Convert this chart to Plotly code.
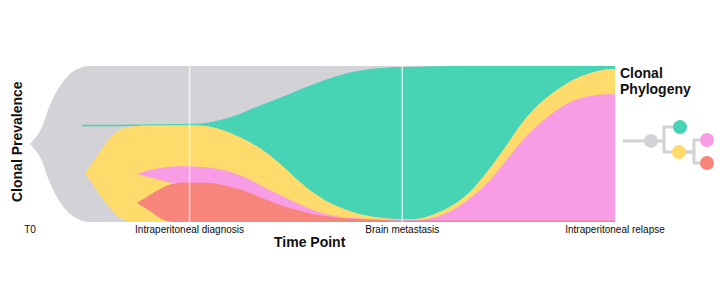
import plotly.graph_objects as go

# ---------------- data (time in arbitrary units, prevalence in %) ----------------
timepoints = [0, 30, 70, 110]
timepoint_labels = ["T0", "Intraperitoneal diagnosis", "Brain metastasis", "Intraperitoneal relapse"]
sample_lines = [30, 70]

clone_colors = ["#d3d2d6", "#46d4b4", "#fedb6a", "#f99ce6", "#f7857c"]

# clone 1 (parental, gray)
gray_t = [0, 1.88, 3.76, 5.64, 7.52, 9.40, 10.91, 60, 110]
gray_top = [50, 58.3, 75.0, 87.2, 94.9, 98.7, 100, 100, 100]
gray_bot = [50, 41.7, 25.0, 12.8, 5.1, 1.3, 0, 0, 0]

# boundary between clone 2 (teal) and clone 3 (yellow)
ty_t = [20.12, 24.45, 30.09, 32.91, 35.73, 38.92, 41.93, 44.75, 47.57, 50.21, 53.22, 56.41,
        59.61, 62.62, 65.81, 70.0, 73.34, 76.53, 79.54, 82.74, 85.93, 89.32, 92.70,
        95.90, 99.10, 102.11, 105.30, 108.50, 110]
ty_v = [61.60, 61.86, 62.05, 61.54, 59.42, 55.13, 50.00, 43.59, 35.58, 27.24, 18.91, 12.18,
        7.69, 4.49, 2.76, 1.92, 2.24, 5.77, 10.90, 19.42, 32.05, 47.76, 64.29,
        76.09, 84.62, 91.03, 95.32, 97.88, 98.08]

# clone 2 (teal)
teal_top_t = [9.78, 16.92, 24.45, 30.09, 32.53, 35.73, 38.92, 41.93, 45.13, 48.33, 51.34,
              54.53, 57.73, 60.74, 63.93, 67.13, 69.58, 80, 110]
teal_top_v = [62.3, 62.4, 62.63, 62.95, 63.27, 65.38, 68.59, 72.88, 77.12, 81.41, 85.71,
              89.94, 93.59, 96.35, 98.08, 98.91, 99.3, 100, 100]
teal_head_t = [9.78, 15.04]
teal_head_v = [61.3, 61.35]

# clone 3 (yellow)
yellow_head_t = [10.34, 11.66, 13.16, 15.04, 16.92, 18.43]
yellow_head_v = [31.09, 37.82, 45.06, 53.65, 58.97, 60.71]
yellow_bot_t = [10.34, 11.66, 13.16, 15.04, 16.92, 18.80, 20.68, 110]
yellow_bot_v = [31.09, 25.0, 17.31, 8.97, 2.56, 0.19, 0, 0]

# clone 4 (pink)
pink_top_t = [20.12, 22.56, 24.45, 26.89, 30.09, 34.41, 37.61, 40.80, 43.81, 47.01, 50.21,
              53.22, 56.41, 59.61, 65.81, 70.0, 73.34, 76.53, 79.54, 82.74, 85.93,
              89.32, 92.70, 95.90, 99.10, 102.11, 105.30, 108.50, 110]
pink_top_v = [30.77, 33.33, 34.62, 35.58, 35.71, 34.42, 32.24, 28.01, 22.63, 17.31, 11.99,
              7.69, 4.49, 2.76, 1.73, 1.41, 1.41, 3.40, 7.69, 15.19, 24.81,
              38.46, 52.56, 63.27, 71.79, 77.76, 80.77, 81.86, 81.86]
pink_bot_t = [20.12, 22.56, 24.45, 26.33, 30.09, 34.41, 41.37, 50.77, 110]
pink_bot_v = [30.77, 28.53, 26.92, 25.32, 23.08, 17.31, 4.49, 0, 0]

# clone 5 (salmon)
salmon_top_t = [20.12, 22.56, 24.45, 26.33, 28.21, 31.03, 34.41, 37.61, 40.80, 43.81, 47.01,
                50.21, 53.22, 56.41, 59.61, 65.81, 70.0, 88.38, 110]
salmon_top_v = [12.18, 17.31, 21.15, 24.04, 25.19, 25.13, 24.81, 22.63, 19.42, 15.19, 10.90,
                7.69, 5.13, 3.40, 2.37, 1.28, 0.95, 1.0, 1.0]
salmon_bot_t = [20.12, 22.56, 24.45, 25.76, 27.27, 110]
salmon_bot_v = [12.18, 7.05, 2.56, 0.64, 0, 0]

# phylogeny (tree panel coordinates, 0..1)
tree_parent = [None, 0, 0, 2, 2]
tree_x = [0.343, 0.619, 0.610, 0.876, 0.876]
tree_y = [0.541, 0.586, 0.505, 0.544, 0.469]
tree_elbow_x = [0.467, None, 0.752, None, None]
tree_root_x = 0.076

FONT = "Liberation Sans, Arial, Helvetica, sans-serif"

fig = go.Figure()


def add_band(tb, vb, tt, vt, color):
    fig.add_trace(go.Scatter(x=tb, y=vb, mode="lines",
                             line=dict(width=0, shape="spline", smoothing=1.0),
                             hoverinfo="skip", showlegend=False))
    fig.add_trace(go.Scatter(x=tt, y=vt, mode="lines",
                             line=dict(width=0, shape="spline", smoothing=1.0),
                             fill="tonexty", fillcolor=color,
                             hoverinfo="skip", showlegend=False))


add_band(gray_t, gray_bot, gray_t, gray_top, clone_colors[0])
add_band(teal_head_t + ty_t, teal_head_v + ty_v, teal_top_t, teal_top_v, clone_colors[1])
add_band(yellow_bot_t, yellow_bot_v, yellow_head_t + ty_t, yellow_head_v + ty_v, clone_colors[2])
add_band(pink_bot_t, pink_bot_v, pink_top_t, pink_top_v, clone_colors[3])
add_band(salmon_bot_t, salmon_bot_v, salmon_top_t, salmon_top_v, clone_colors[4])

# phylogeny edges
ex, ey = [tree_root_x, tree_x[0], None], [tree_y[0], tree_y[0], None]
for i, p in enumerate(tree_parent):
    if p is None:
        continue
    xe = tree_elbow_x[p]
    ex += [tree_x[p], xe, xe, tree_x[i], None]
    ey += [tree_y[p], tree_y[p], tree_y[i], tree_y[i], None]
fig.add_trace(go.Scatter(x=ex, y=ey, mode="lines", xaxis="x2", yaxis="y2",
                         line=dict(color="#d2d2d2", width=3), hoverinfo="skip", showlegend=False))
fig.add_trace(go.Scatter(x=tree_x, y=tree_y, mode="markers", xaxis="x2", yaxis="y2",
                         marker=dict(size=14, color=clone_colors, line=dict(width=0)),
                         hoverinfo="skip", showlegend=False))

shapes = [dict(type="line", xref="x", yref="y", x0=t, x1=t, y0=0, y1=100, layer="above",
               line=dict(color="rgba(255,255,255,0.7)", width=1.5)) for t in sample_lines]

W, H = 720, 307
fig.update_layout(
    width=W, height=H, margin=dict(l=0, r=0, t=0, b=0, autoexpand=False),
    paper_bgcolor="white", plot_bgcolor="rgba(0,0,0,0)",
    showlegend=False, shapes=shapes,
    xaxis=dict(domain=[30 / W, 615 / W], range=[0, 110], tickvals=timepoints, ticktext=timepoint_labels,
               tickfont=dict(family=FONT, size=10, color="#0a0a0a"), ticks="", automargin=False,
               showgrid=False, zeroline=False, showline=False, fixedrange=True),
    yaxis=dict(domain=[(H - 222) / H, (H - 66) / H], range=[0, 100], visible=False, fixedrange=True,
               automargin=False),
    xaxis2=dict(domain=[615 / W, 1], range=[0, 1], visible=False, anchor="y2", automargin=False),
    yaxis2=dict(domain=[0, 1], range=[0, 1], visible=False, anchor="x2", automargin=False),
    annotations=[
        dict(text="<b>Time Point</b>", x=310 / W, y=(H - 242) / H, xref="paper", yref="paper",
             showarrow=False, font=dict(family=FONT, size=14, color="#111"), xanchor="center", yanchor="middle"),
        dict(text="<b>Clonal Prevalence</b>", x=17 / W, y=(H - 142) / H, xref="paper", yref="paper",
             showarrow=False, textangle=-90, font=dict(family=FONT, size=14, color="#111"),
             xanchor="center", yanchor="middle"),
        dict(text="<b>Clonal</b>", x=618 / W, y=(H - 73) / H, xref="paper", yref="paper",
             showarrow=False, font=dict(family=FONT, size=14, color="#111"), xanchor="left", yanchor="middle"),
        dict(text="<b>Phylogeny</b>", x=618 / W, y=(H - 89) / H, xref="paper", yref="paper",
             showarrow=False, font=dict(family=FONT, size=14, color="#111"), xanchor="left", yanchor="middle"),
    ],
)

fig.write_html("out.html")
